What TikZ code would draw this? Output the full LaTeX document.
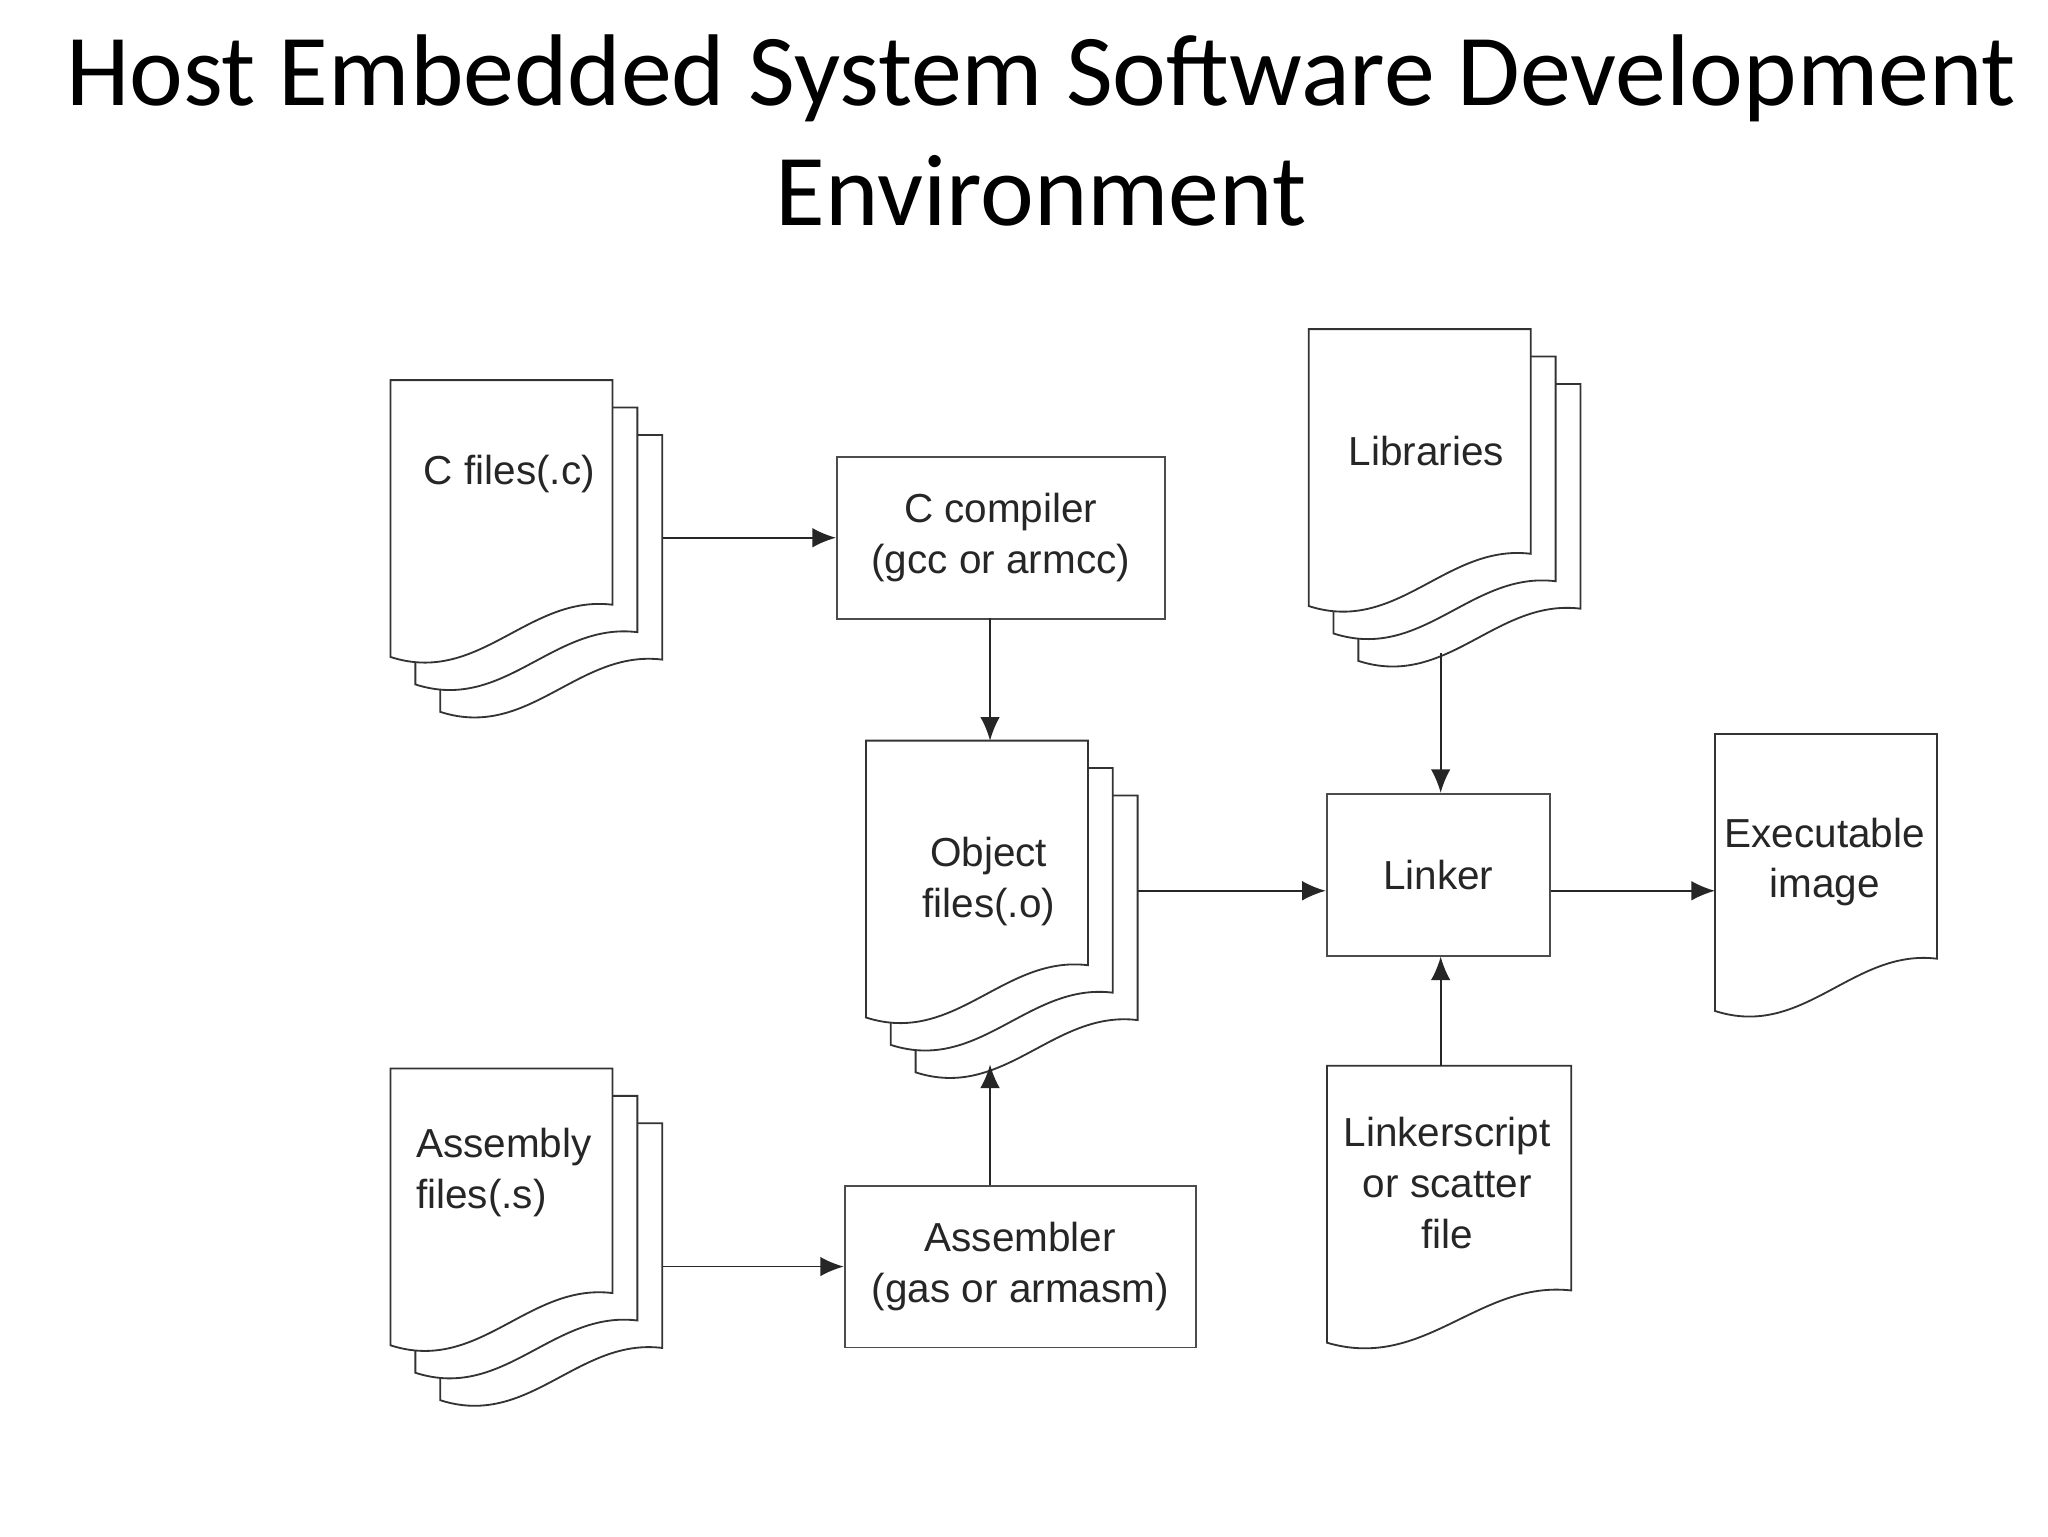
\documentclass[tikz,border=0pt]{standalone}
\usepackage{fontspec}
\setmainfont{Liberation Sans}
\newfontfamily\titlefont{Carlito}
\usetikzlibrary{arrows.meta}
\tikzset{
  sheet/.style={draw=black!80, fill=white, line width=1.4pt},
  procbox/.style={draw=black!70, fill=white, line width=1.4pt, align=center, font=\fontsize{31}{39}\selectfont, text=black!85, inner sep=0pt},
  lbl/.style={font=\fontsize{31}{39}\selectfont, text=black!85, align=center},
  area/.style={inner sep=0pt, draw=none},
  arr/.style={line width=1.4pt, draw=black!85, -{Latex[length=18pt,width=15pt]}}
}
\newcommand{\docsheet}[4]{%
  \path[sheet] (#1,#2) -- (#1+#3,#2) -- (#1+#3,#2+#4-40)
    .. controls (#1+0.62*#3,#2+#4-48) and (#1+0.4*#3,#2+#4+22) .. (#1,#2+#4) -- cycle;}
\newcommand{\docstack}[4]{%
  \docsheet{#1+38}{#2+42}{#3}{#4}\docsheet{#1+19}{#2+21}{#3}{#4}\docsheet{#1}{#2}{#3}{#4}}
\begin{document}
\begin{tikzpicture}[x=1pt,y=-1pt]
\useasboundingbox[fill=white] (0,0) rectangle (1568,1176);
\node[font=\titlefont\fontsize{78}{92}\selectfont, align=center] (title) at (797,100)
  {Host Embedded System Software Development\\Environment};
% documents
\docstack{299}{291}{170}{212}
\docstack{663}{567}{170}{212}
\docstack{299}{818}{170}{212}
\docstack{1002}{252}{170}{212}
\docsheet{1016}{816}{187}{212}
\docsheet{1313}{562}{170}{212}
% areas
\node[area, minimum width=208, minimum height=256, anchor=north west] (cf) at (299,291) {};
\node[area, minimum width=208, minimum height=256, anchor=north west] (of) at (663,567) {};
\node[area, minimum width=208, minimum height=256, anchor=north west] (af) at (299,818) {};
\node[area, minimum width=208, minimum height=256, anchor=north west] (lib) at (1002,252) {};
\node[area, minimum width=187, minimum height=212, anchor=north west] (ls) at (1016,816) {};
\node[area, minimum width=170, minimum height=212, anchor=north west] (ex) at (1313,562) {};
\coordinate (mid) at (0,682);
% labels
\node[lbl] (cft) at (390,363) {C files(.c)};
\node[lbl] (oft) at (757,675) {Object\\files(.o)};
\node[lbl, align=left, anchor=west] (aft) at (315,898) {Assembly\\files(.s)};
\node[lbl] (libt) at (1092,345) {Libraries};
\node[lbl] (lst) at (1108,906) {Linkerscript\\or scatter\\file};
\node[lbl] (ext) at (1397,660) {Executable\\image};
% boxes
\node[procbox, minimum width=251, minimum height=124, anchor=north west] (cc) at (640,349) {C compiler\\(gcc or armcc)};
\node[procbox, minimum width=269, minimum height=124, anchor=north west] (as) at (646,907) {Assembler\\(gas or armasm)};
\node[procbox, minimum width=171, minimum height=124, anchor=north west, text depth=0pt] (ln) at (1015,607) {Linker};
% connectors
\draw[arr] (cc.west -| cf.east) -- (cc.west);
\draw[arr] (758,473) -- (758,567);
\draw[arr] (as.west -| af.east) -- (as.west);
\draw[arr] (758,907) -- (758,815);
\draw[arr] (1103,500) -- (ln.north -| 1103,0);
\draw[arr] (ls.north -| 1103,0) -- (ln.south -| 1103,0);
\draw[arr] (of.east |- mid) -- (ln.west |- mid);
\draw[arr] (ln.east |- mid) -- (ex.west |- mid);
\end{tikzpicture}
\end{document}
